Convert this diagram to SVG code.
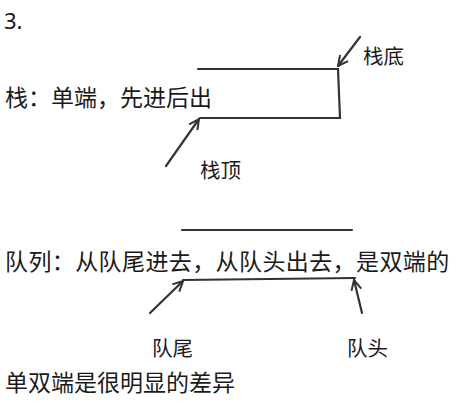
<svg xmlns="http://www.w3.org/2000/svg" width="474" height="416" viewBox="0 0 474 416">
<defs>
<style>
text{font-family:"Noto Sans CJK SC","Noto Sans",sans-serif;fill:#1a1a1a}
.t{font-size:23px}
.l{font-size:20.5px}
.ln{stroke:#333;stroke-width:2.2;fill:none;stroke-linecap:round}
</style>
<marker id="ah" viewBox="0 0 12 12" refX="11" refY="6" markerWidth="12" markerHeight="12" markerUnits="userSpaceOnUse" orient="auto">
<polyline points="1,1 11,6 1,11" fill="none" stroke="#333" stroke-width="2"/>
</marker>
</defs>
<rect width="474" height="416" fill="#fff"/>
<g id="texts">
<text x="4" y="29" style="font-size:22px;font-family:'Noto Sans',sans-serif">3.</text>
<text class="t" x="5" y="106">栈：单端，先进后出</text>
<text class="t" x="5" y="270" style="letter-spacing:0.4px">队列：从队尾进去，从队头出去，是双端的</text>
<text class="t" x="5" y="391">单双端是很明显的差异</text>
</g>
<g id="stack">
<polyline class="ln" points="198,69 338,69 340,118 200,118"/>
</g>
<g id="queue">
<line class="ln" x1="182" y1="230" x2="352" y2="230"/>
<line class="ln" x1="183" y1="280" x2="355" y2="278"/>
</g>
<g id="label-stack-bottom"><text class="l" x="363" y="64">栈底</text></g>
<g id="label-stack-top"><text class="l" x="200" y="178">栈顶</text></g>
<g id="label-queue-tail"><text class="l" x="152" y="356">队尾</text></g>
<g id="label-queue-head"><text class="l" x="347" y="356">队头</text></g>
<g id="connectors">
<line class="ln" x1="360" y1="37" x2="338" y2="66" marker-end="url(#ah)"/>
<line class="ln" x1="166" y1="166" x2="199" y2="119" marker-end="url(#ah)"/>
<line class="ln" x1="150" y1="313" x2="183" y2="281" marker-end="url(#ah)"/>
<line class="ln" x1="362" y1="313" x2="354" y2="280" marker-end="url(#ah)"/>
</g>
</svg>
